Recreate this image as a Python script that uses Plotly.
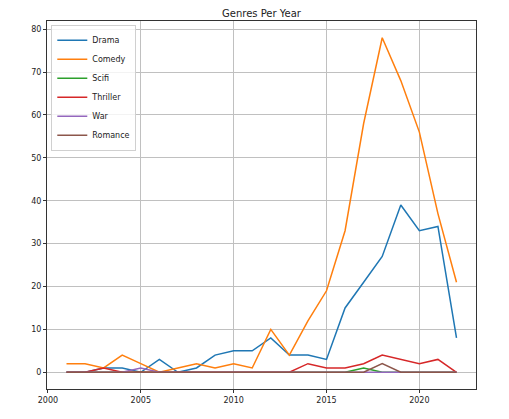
import plotly.graph_objects as go

years = list(range(2001, 2023))

drama = [0, 0, 1, 1, 0, 3, 0, 1, 4, 5, 5, 8, 4, 4, 3, 15, 21, 27, 39, 33, 34, 8]
comedy = [2, 2, 1, 4, 2, 0, 1, 2, 1, 2, 1, 10, 4, 12, 19, 33, 58, 78, 68, 56, 37, 21]
scifi = [0, 0, 0, 0, 0, 0, 0, 0, 0, 0, 0, 0, 0, 0, 0, 0, 1, 0, 0, 0, 0, 0]
thriller = [0, 0, 1, 0, 0, 0, 0, 0, 0, 0, 0, 0, 0, 2, 1, 1, 2, 4, 3, 2, 3, 0]
war = [0, 0, 0, 0, 1, 0, 0, 0, 0, 0, 0, 0, 0, 0, 0, 0, 0, 0, 0, 0, 0, 0]
romance = [0, 0, 0, 0, 0, 0, 0, 0, 0, 0, 0, 0, 0, 0, 0, 0, 0, 2, 0, 0, 0, 0]

series = [
    ('Drama', drama, '#1f77b4'),
    ('Comedy', comedy, '#ff7f0e'),
    ('Scifi', scifi, '#2ca02c'),
    ('Thriller', thriller, '#d62728'),
    ('War', war, '#9467bd'),
    ('Romance', romance, '#8c564b'),
]

fig = go.Figure()
for name, vals, color in series:
    fig.add_trace(go.Scatter(x=years, y=vals, name=name, mode='lines',
                             line=dict(color=color, width=1.5)))

axis_style = dict(showline=True, linecolor='#333333', linewidth=1, mirror=True,
                  ticks='outside', ticklen=3, tickcolor='#333333',
                  showgrid=True, gridcolor='#c0c0c0', gridwidth=1,
                  zeroline=False, tickfont=dict(size=8, color='#222222'))

fig.update_layout(
    width=509, height=419,
    margin=dict(l=47, r=33, t=21, b=30),
    paper_bgcolor='white', plot_bgcolor='white',
    font=dict(family='DejaVu Sans', size=8, color='#222222'),
    title=dict(text='Genres Per Year', x=0.5, xanchor='center', y=0.975, yanchor='top',
               xref='paper', font=dict(size=10)),
    xaxis=dict(range=[1999.95, 2023.05], tickvals=[2000, 2005, 2010, 2015, 2020], **axis_style),
    yaxis=dict(range=[-3.9, 81.9], tickvals=[0, 10, 20, 30, 40, 50, 60, 70, 80], **axis_style),
    legend=dict(x=0.01, y=0.99, xanchor='left', yanchor='top',
                bgcolor='rgba(255,255,255,0.8)', bordercolor='#d0d0d0', borderwidth=1,
                font=dict(size=8), tracegroupgap=0, itemwidth=30),
    showlegend=True,
)

# drop the browser's default body margin so the figure sits at 0,0
fig.write_html('out.html', config={'displayModeBar': False},
               post_script="document.body.style.margin='0';")
